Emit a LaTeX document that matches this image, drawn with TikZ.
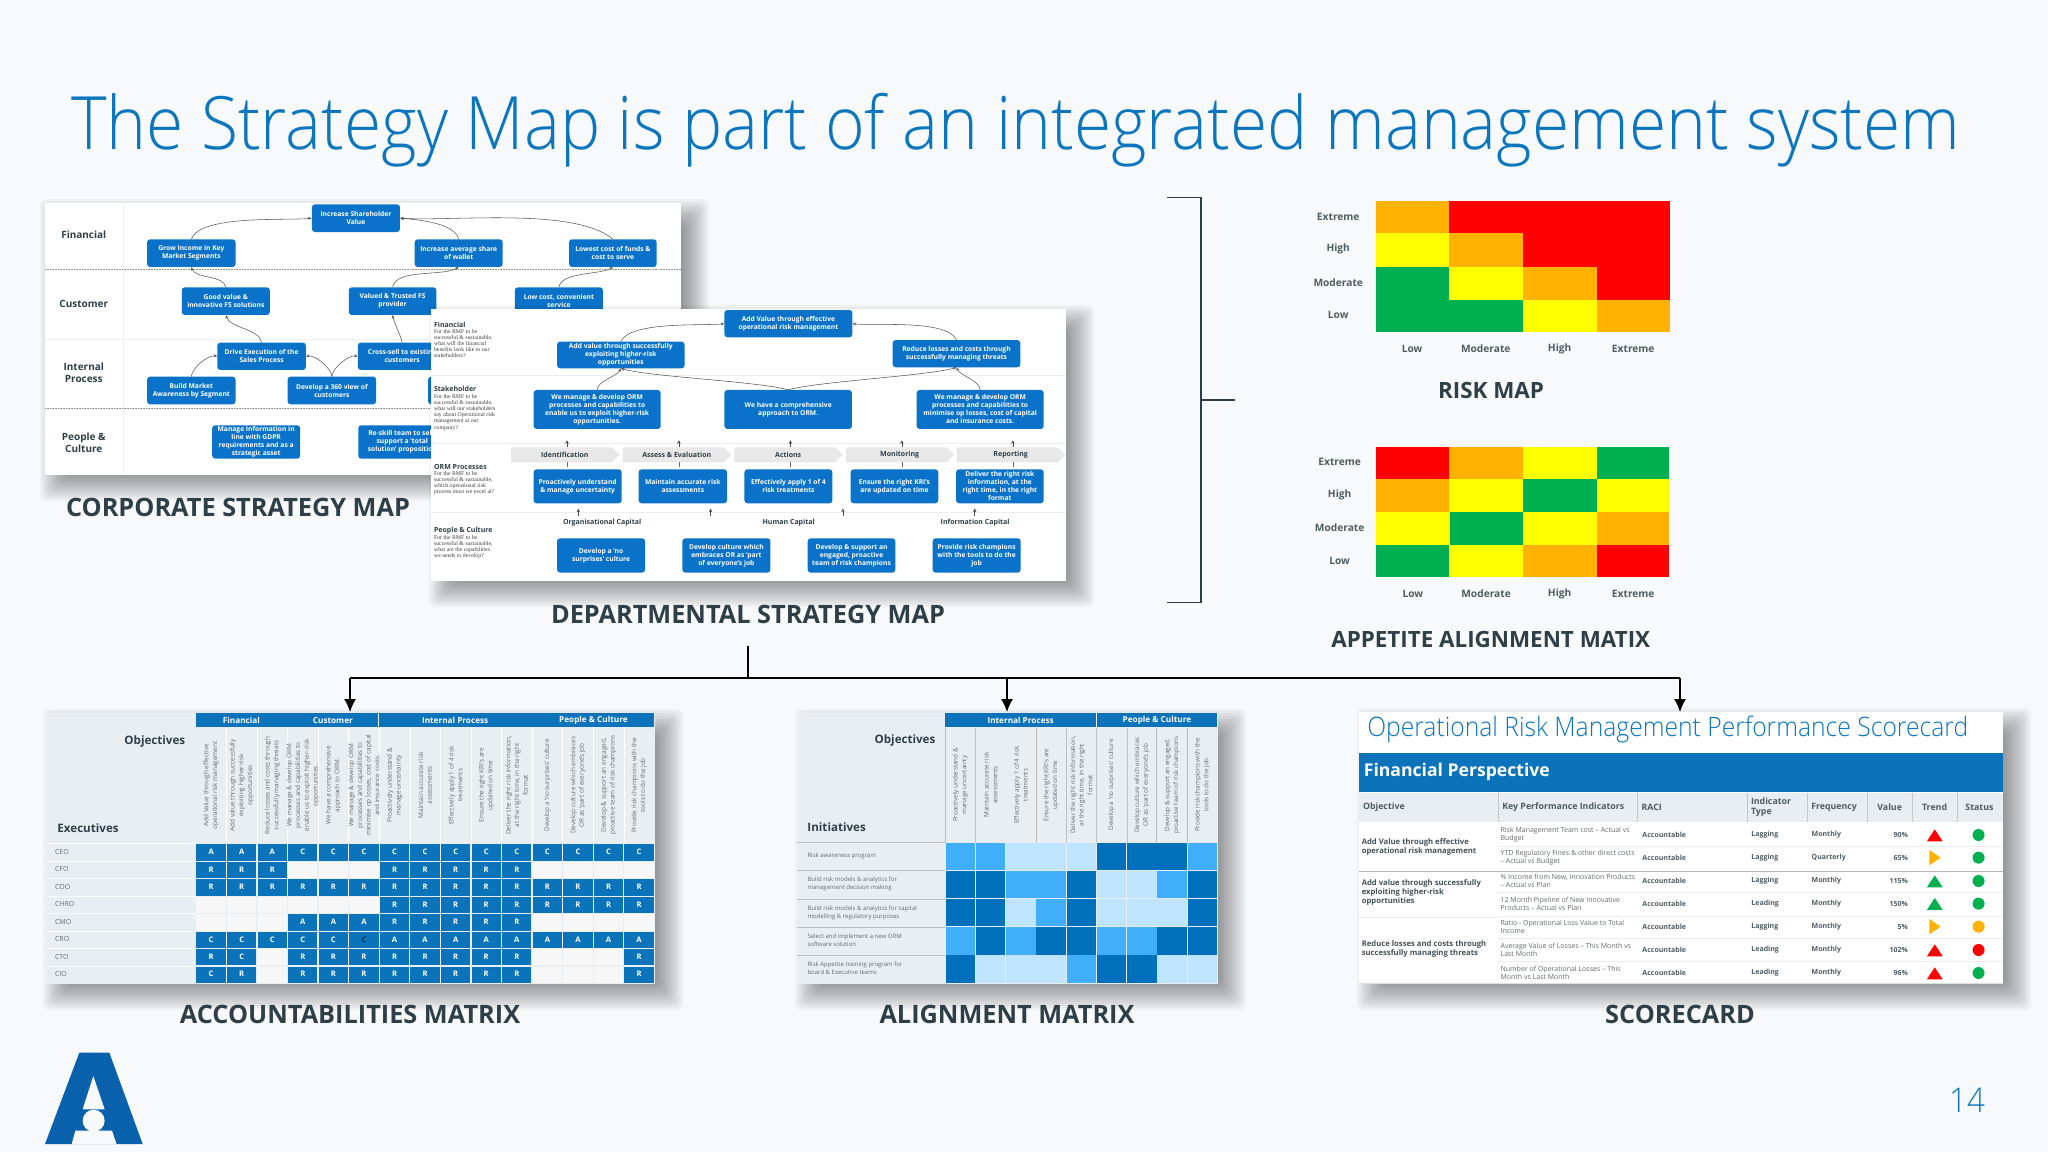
\documentclass[tikz,border=0pt]{standalone}
\usepackage{fontspec}
\usetikzlibrary{arrows.meta}
\setmainfont{Open Sans}
\newfontfamily\lightf{Open Sans Light}[FakeStretch=0.92]
\newcommand{\semif}{\bfseries}
\newfontfamily\serf{Liberation Serif}
\definecolor{bgc}{HTML}{F8F9FB}
\definecolor{titleblue}{HTML}{0B76BE}
\definecolor{boxblue}{HTML}{0A72C8}
\definecolor{tblblue}{HTML}{0A73BA}
\definecolor{capc}{HTML}{2F3F47}
\definecolor{grayt}{HTML}{666C70}
\definecolor{hdrc}{HTML}{E9EEF2}
\definecolor{rr}{HTML}{FF0000}
\definecolor{oo}{HTML}{FFB300}
\definecolor{yy}{HTML}{FFFF00}
\definecolor{gg}{HTML}{00B050}
\definecolor{DD}{HTML}{0070BC}
\definecolor{MM}{HTML}{40AEFB}
\definecolor{LL}{HTML}{BFE4FF}
\newcommand{\fs}[2]{\fontsize{#1}{#2}\selectfont}
\newcount\nn
\newcommand{\lab}[4]{\global\advance\nn by 1\node[#1] (lab\the\nn) at (#2,#3) {#4};}
\def\zs{1}
\newcommand{\bx}[6]{\pgfmathsetmacro\ww{(#4-#2)*\zs}\pgfmathsetmacro\hh{(#5-#3)*0.3333}%
 \node[flowbox,minimum width=\ww pt,minimum height=\hh pt] (#1) at ({(#2+#4)/2},{(#3+#5)/2}) {#6};}
\newcommand{\softsh}[4]{\foreach \ii in {15,13,...,-15}{%
 \fill[black,opacity=0.033,rounded corners=6pt] ({#1+13-\ii},{#2+11-\ii}) rectangle ({#3+13+\ii},{#4+11+\ii});}}
\tikzset{
 flowbox/.style={fill=boxblue,rounded corners=3pt,text=white,align=center,inner sep=0pt,font=\bfseries\fs{6.7}{8}},
 curve/.style={draw=black!65,line width=0.55pt,-{Stealth[length=3.5pt,width=3pt]}},
 upar/.style={draw=black!70,line width=0.55pt,-{Stealth[length=3.5pt,width=3.5pt]}},
 caption/.style={font=\semif\fs{25.3}{28},text=capc},
 captionb/.style={font=\semif\fs{22.4}{26},text=capc},
 riskl/.style={font=\semif\fs{10.2}{12},text=capc!85},
 chev/.style={fill=black!9,draw=none},
 tree/.style={draw=black,line width=1.4pt},
 treear/.style={draw=black,line width=1.4pt,-{Latex[length=13pt,width=12pt]}},
 brk/.style={draw=capc,line width=1.5pt},
 rowlbl/.style={font=\semif\fs{10}{12},text=capc,align=center},
 dsmall/.style={font=\serf\fs{5.8}{6.1},align=left,anchor=north west,inner sep=0pt,text=black!75},
 dhead/.style={font=\semif\fs{7}{9},anchor=west,inner sep=0pt,text=capc},
 vert/.style={rotate=90,align=center,text=grayt,inner sep=0pt},
 tblhead/.style={font=\bfseries\fs{8.2}{10},text=white,inner sep=0pt},
 matl/.style={font=\bfseries\fs{11.6}{13},text=capc,inner sep=0pt},
}
\begin{document}
\begin{tikzpicture}[x=1pt,y=-1pt]
\useasboundingbox (0,0) rectangle (2048,1152);
\fill[bgc] (0,0) rectangle (2048,1152);
% title
\lab{anchor=base west,inner sep=0pt,font=\lightf\fs{73.6}{80},text=titleblue}{71}{149}{The Strategy Map is part of an integrated management system}
% ---------- corporate
\softsh{42}{203}{681}{475}
\begin{scope}[shift={(30,190)},x=0.4337pt,y=-0.3333pt]
\def\zs{0.4337}
\fill[white] (35,38) rectangle (1502,855);
\draw[black!45,line width=.6pt,densely dotted] (35,238)--(1502,238) (35,655)--(1502,655);
\draw[black!6,line width=1pt] (35,450)--(1502,450) (215,40)--(215,850);
\lab{rowlbl}{124}{134}{Financial}
\lab{rowlbl}{124}{343}{Customer}
\lab{rowlbl}{124}{549}{Internal\\Process}
\lab{rowlbl}{124}{758}{People \&\\Culture}
\bx{ctop}{650}{43}{853}{126}{Increase Shareholder\\Value}
\bx{cgrow}{270}{148}{474}{231}{Grow Income in Key\\Market Segments}
\bx{cwal}{887}{148}{1090}{231}{Increase average share\\of wallet}
\bx{clow}{1243}{148}{1445}{231}{Lowest cost of funds \&\\cost to serve}
\bx{cgood}{350}{292}{553}{375}{Good value \&\\innovative FS solutions}
\bx{cval}{735}{292}{937}{375}{Valued \& Trusted FS\\provider}
\bx{ccon}{1118}{292}{1321}{375}{Low cost, convenient\\service}
\bx{cdrive}{432}{458}{636}{540}{Drive Execution of the\\Sales Process}
\bx{ccross}{756}{458}{960}{540}{Cross-sell to existing\\customers}
\bx{cbuild}{270}{560}{474}{643}{Build Market\\Awareness by Segment}
\bx{cdev}{594}{560}{798}{643}{Develop a 360 view of\\customers}
\bx{chid}{918}{560}{1120}{643}{}
\bx{cman}{420}{706}{623}{806}{Manage Information in\\line with GDPR\\requirements and as a\\strategic asset}
\bx{cres}{757}{706}{960}{806}{Re-skill team to sell/\\support a `total\\solution' proposition}
\draw[curve] (cgrow.north) to[out=70,in=186,looseness=.55] (ctop.west);
\draw[curve] (cwal.north) to[out=105,in=-5,looseness=.7] (ctop.east);
\draw[curve] (clow.north) to[out=140,in=-4,looseness=.6] (ctop.east);
\draw[curve] (cgood.north) to[out=100,in=-70,looseness=.8] (cgrow.south);
\draw[curve] (cval.north) to[out=80,in=-150,looseness=.7] (cwal.south);
\draw[curve] (ccon.north) to[out=80,in=-150,looseness=.7] (clow.south);
\draw[curve] (cdrive.north) to[out=100,in=-70,looseness=.8] (cgood.south);
\draw[curve] (ccross.north) to[out=100,in=-80,looseness=.6] (cval.south);
\draw[curve] (cbuild.north) to[out=85,in=170,looseness=.7] (cdrive.west);
\draw[curve] (cdev.north) to[out=95,in=10,looseness=.7] (cdrive.east);
\draw[curve] (cdev.north) to[out=85,in=170,looseness=.7] (ccross.west);
\end{scope}
\lab{caption}{238}{507}{CORPORATE STRATEGY MAP}
% ---------- departmental
\softsh{431}{309}{1066}{581}
\begin{scope}[shift={(420,300)},x=0.4337pt,y=-0.3333pt]
\def\zs{0.4337}
\fill[white] (25,27) rectangle (1490,843);
\draw[black!7,line width=1pt] (25,225)--(1490,225) (25,430)--(1490,430) (25,638)--(1490,638);
\lab{dhead}{32}{74}{Financial}
\lab{dsmall}{32}{88}{For the RMF to be\\successful \& sustainable,\\what will the financial\\benefits look like to our\\stakeholders?}
\lab{dhead}{32}{268}{Stakeholder}
\lab{dsmall}{32}{283}{For the RMF to be\\successful \& sustainable,\\what will our stakeholders\\say about Operational risk\\management at our\\company?}
\lab{dhead}{32}{500}{ORM Processes}
\lab{dsmall}{32}{513}{For the RMF to be\\successful \& sustainable,\\which operational risk\\process must we excel at?}
\lab{dhead}{32}{691}{People \& Culture}
\lab{dsmall}{32}{705}{For the RMF to be\\successful \& sustainable,\\what are the capabilities\\we needs to develop?}
\bx{dtop}{702}{30}{997}{112}{Add Value through effective\\operational risk management}
\bx{dl}{316}{125}{610}{205}{Add value through successfully\\exploiting higher-risk\\opportunities}
\bx{dr}{1090}{120}{1384}{202}{Reduce losses and costs through\\successfully managing threats}
\bx{ds1}{262}{270}{555}{387}{We manage \& develop ORM\\processes and capabilities to\\enable us to exploit higher-risk\\opportunities.}
\bx{ds2}{702}{270}{996}{387}{We have a comprehensive\\approach to ORM.}
\bx{ds3}{1145}{270}{1438}{387}{We manage \& develop ORM\\processes and capabilities to\\minimise op losses, cost of capital\\and insurance costs.}
\draw[curve] (dl.north) to[out=65,in=186,looseness=.55] (dtop.west);
\draw[curve] (dr.north) to[out=115,in=-6,looseness=.55] (dtop.east);
\draw[curve] (ds1.north) to[out=90,in=-115,looseness=.7] (dl.south);
\draw[curve] (ds2.north) to[out=165,in=-15,looseness=.5] (dl.south);
\draw[curve] (ds2.north) to[out=15,in=195,looseness=.5] (dr.south);
\draw[curve] (ds3.north) to[out=90,in=-65,looseness=.7] (dr.south);
\foreach \n/\a/\t [count=\k] in {1/210/Identification,2/468/Assess \& Evaluation,3/725/Actions,4/982/Monitoring,5/1238/Reporting}{
  \fill[chev] (\a,442) -- ({\a+232},442) -- ({\a+250},464) -- ({\a+232},487) -- (\a,487) -- cycle;
  \coordinate (dtopc\n) at ({\a+129},442);
  \coordinate (dtopa\n) at ({\a+129},421);
  \coordinate (dbotc\n) at ({\a+129},487);
  \coordinate (dbota\n) at ({\a+129},502);
  \draw[upar] (dtopc\n) -- (dtopa\n);
  \draw[black!60,line width=.55pt] (dbota\n) -- (dbotc\n);
  \node[font=\bfseries\fs{7}{9},text=capc,inner sep=0pt] (dchevt\n) at ({\a+124},464) {\t};
}
\bx{dp1}{262}{508}{465}{610}{Proactively understand\\\& manage uncertainty}
\bx{dp2}{504}{508}{708}{610}{Maintain accurate risk\\assessments}
\bx{dp3}{748}{508}{951}{610}{Effectively apply 1 of 4\\risk treatments}
\bx{dp4}{993}{508}{1195}{610}{Ensure the right KRI's\\are updated on time}
\bx{dp5}{1236}{508}{1438}{610}{Deliver the right risk\\information, at the\\right time, in the right\\format}
\foreach \x [count=\k] in {365,670,975,1279}{
  \coordinate (da\k) at (\x,648); \coordinate (db\k) at (\x,626);
  \draw[upar] (da\k) -- (db\k);
}
\lab{font=\bfseries\fs{7}{9},text=capc,inner sep=0pt}{420}{668}{Organisational Capital}
\lab{font=\bfseries\fs{7}{9},text=capc,inner sep=0pt}{850}{668}{Human Capital}
\lab{font=\bfseries\fs{7}{9},text=capc,inner sep=0pt}{1280}{668}{Information Capital}
\bx{dc1}{316}{715}{519}{818}{Develop a `no\\surprises' culture}
\bx{dc2}{605}{715}{808}{818}{Develop culture which\\embraces OR as `part\\of everyone's job}
\bx{dc3}{894}{715}{1096}{818}{Develop \& support an\\engaged, proactive\\team of risk champions}
\bx{dc4}{1182}{715}{1385}{818}{Provide risk champions\\with the tools to do the\\job}
\end{scope}
\lab{caption}{748}{614}{DEPARTMENTAL STRATEGY MAP}
% ---------- risk maps
\begin{scope}[shift={(1150,180)},x=0.35714pt,y=-0.3333pt]
\coordinate (bt) at (48,53); \coordinate (btc) at (143,53); \coordinate (bbc) at (143,1268); \coordinate (bb) at (48,1268);
\coordinate (bm) at (143,660); \coordinate (bo) at (238,660);
\draw[brk] (bt) -- (btc) -- (bbc) -- (bb);
\draw[brk,line width=1.2pt] (bm) -- (bo);
\foreach \cc/\xs/\xt/\ys/\yt in {
 oo/632/838/63/160, rr/838/1457/63/160,
 yy/632/838/160/260, oo/838/1044/160/260, rr/1044/1457/160/260,
 gg/632/838/260/359, yy/838/1044/260/359, oo/1044/1251/260/359, rr/1251/1457/260/359,
 gg/632/1044/359/457, yy/1044/1251/359/457, oo/1251/1457/359/457,
 rr/634/838/800/897, oo/838/1045/800/897, yy/1045/1251/800/897, gg/1251/1454/800/897,
 oo/634/838/897/995, yy/838/1045/897/995, gg/1045/1251/897/995, yy/1251/1454/897/995,
 yy/634/840/995/1094, gg/840/1045/995/1094, yy/1045/1251/995/1094, oo/1251/1454/995/1094,
 gg/634/838/1094/1191, yy/838/1045/1094/1191, oo/1045/1251/1094/1191, rr/1251/1454/1094/1191}{
 \fill[\cc] (\xs,\ys) rectangle (\xt,\yt);
}
\foreach \t/\y in {Extreme/110,High/208,Moderate/307,Low/406}{\lab{riskl}{527}{\y}{\t}}
\foreach \t/\x in {Low/734,Moderate/940,High/1147,Extreme/1353}{\lab{riskl}{\x}{506}{\t}}
\foreach \t/\y in {Extreme/847,High/945,Moderate/1044,Low/1142}{\lab{riskl}{531}{\y}{\t}}
\foreach \t/\x in {Low/736,Moderate/941,High/1147,Extreme/1353}{\lab{riskl}{\x}{1241}{\t}}
\lab{captionb}{955}{631}{RISK MAP}
\lab{captionb}{954}{1378}{APPETITE ALIGNMENT MATIX}
\end{scope}
% ---------- tree
\coordinate (tstem) at (748,646);
\coordinate (tj) at (748,678);
\coordinate (tl) at (350,678); \coordinate (tm) at (1007,678); \coordinate (tr) at (1680,678);
\coordinate (tla) at (350,712); \coordinate (tma) at (1007,712); \coordinate (tra) at (1680,712);
\draw[tree] (tstem) -- (tj);
\draw[tree] (tl) -- (tr);
\draw[treear] (tl) -- (tla);
\draw[treear] (tm) -- (tma);
\draw[treear] (tr) -- (tra);
% ---------- accountabilities
\softsh{45}{713}{655}{984}
\begin{scope}[shift={(30,700)},x=0.4146pt,y=-0.3333pt]
\fill[hdrc] (35,38) rectangle (1508,853);
\draw[black!7,line width=.8pt] (40,45) -- (400,430);
\foreach \a/\b/\t in {400/620/Financial,621/840/Customer,841/1210/Internal Process,1212/1506/People \& Culture}{
 \fill[tblblue] (\a,40) rectangle (\b,82);
 \lab{tblhead}{{(\a+\b)/2}}{61}{\t}
}
\foreach \c in {1,...,14}{\draw[white,line width=.5pt] ({400+\c*73.73},84) -- ({400+\c*73.73},430);}
\foreach \t [count=\c] in {{Add Value through effective\\operational risk management},{Add value through successfully\\exploiting higher-risk\\opportunities},{Reduce losses and costs through\\successfully managing threats},{We manage \& develop ORM\\processes and capabilities to\\enable us to exploit higher-risk\\opportunities.},{We have a comprehensive\\approach to ORM.},{We manage \& develop ORM\\processes and capabilities to\\minimise op losses, cost of capital\\and insurance costs.},{Proactively understand \&\\manage uncertainty},{Maintain accurate risk\\assessments},{Effectively apply 1 of 4 risk\\treatments},{Ensure the right KRI's are\\updated on time},{Deliver the right risk information,\\at the right time, in the right\\format},{Develop a `no surprises' culture},{Develop culture which embraces\\OR as `part of everyone's job},{Develop \& support an engaged,\\proactive team of risk champions},{Provide risk champions with the\\tools to do the job}}{
 \node[vert,font=\fs{6.4}{8.7}] (acch\c) at ({400+(\c-.5)*73.73},256) {\t};
}
\lab{matl}{301}{124}{Objectives}
\lab{matl}{140}{383}{Executives}
\def\dashv{-}\def\dk{c}
\foreach \nm/\rw [count=\r] in {CEO/{A,A,A,C,C,C,C,C,C,C,C,C,C,C,C},CFO/{R,R,R,-,-,-,R,R,R,R,R,-,-,-,-},COO/{R,R,R,R,R,R,R,R,R,R,R,R,R,R,R},CHRO/{-,-,-,-,-,-,R,R,R,R,R,R,R,R,R},CMO/{-,-,-,A,A,A,R,R,R,R,R,-,-,-,-},CRO/{C,C,C,C,C,c,A,A,A,A,A,A,A,A,A},CTO/{R,C,-,R,R,R,R,R,R,R,R,-,-,-,R},CIO/{C,R,-,R,R,R,R,R,R,R,R,-,-,-,R}}{
 \pgfmathsetmacro\yt{433+(\r-1)*52.4}
 \pgfmathsetmacro\yb{\yt+49}
 \pgfmathsetmacro\ym{\yt+23}
 \draw[white,line width=.7pt] (42,{\yt-1.5}) -- (400,{\yt-1.5});
 \node[font=\fs{7}{9},text=grayt,anchor=west,inner sep=0pt] (accr\r) at (60,\ym) {\nm};
 \foreach \v [count=\c] in \rw {
  \pgfmathsetmacro\xl{400+(\c-1)*73.73+1.5}
  \pgfmathsetmacro\xr{400+\c*73.73-1.5}
  \pgfmathsetmacro\xm{(\xl+\xr)/2}
  \ifx\v\dashv
   \fill[white!97!black] (\xl,\yt) rectangle (\xr,\yb);
  \else
   \fill[tblblue] (\xl,\yt) rectangle (\xr,\yb);
   \ifx\v\dk
    \node[font=\bfseries\fs{7.6}{10},text=black!55!tblblue,inner sep=0pt] (acc\r-\c) at (\xm,\ym) {C};
   \else
    \node[font=\bfseries\fs{7.6}{10},text=white,inner sep=0pt] (acc\r-\c) at (\xm,\ym) {\v};
   \fi
  \fi
 }
}
\end{scope}
\lab{caption}{350}{1014}{ACCOUNTABILITIES MATRIX}
% ---------- alignment
\softsh{797}{713}{1218}{984}
\begin{scope}[shift={(790,700)},x=0.3333pt,y=-0.3333pt]
\fill[hdrc] (22,40) rectangle (1285,852);
\draw[black!8,line width=.8pt] (22,40) -- (466,428);
\foreach \a/\b/\t in {466/918/Internal Process,920/1282/People \& Culture}{
 \fill[tblblue] (\a,40) rectangle (\b,82);
 \lab{tblhead}{{(\a+\b)/2}}{61}{\t}
}
\foreach \x in {466,556,738,829,920,1011,1100,1192}{\draw[black!25,line width=.5pt] (\x,84) -- (\x,428);}
\foreach \t [count=\c] in {{Proactively understand \&\\manage uncertainty},{Maintain accurate risk\\assessments},{Effectively apply 1 of 4 risk\\treatments},{Ensure the right KRI's are\\updated on time},{Deliver the right risk information,\\at the right time, in the right\\format},{Develop a `no surprises' culture},{Develop culture which embraces\\OR as `part of everyone's job},{Develop \& support an engaged,\\proactive team of risk champions},{Provide risk champions with the\\tools to do the job}}{
 \node[vert,font=\fs{6.3}{8.7}] (alih\c) at ({466+(\c-.5)*90.7},255) {\t};
}
\lab{matl}{345}{122}{Objectives}
\lab{matl}{140}{380}{Initiatives}
\foreach \t/\rw [count=\r] in {{Risk awareness program}/{MM,MM,LL,LL,LL,DD,DD,DD,MM},{Build risk models \& analytics for\\management decision making}/{DD,DD,MM,MM,DD,LL,LL,MM,DD},{Build risk models \& analytics for capital\\modelling \& regulatory purposes}/{DD,DD,LL,MM,DD,LL,LL,LL,DD},{Select and implement a new ORM\\software solution}/{MM,DD,MM,DD,DD,MM,MM,DD,DD},{Risk Appetite training program for\\board \& Executive teams}/{DD,LL,LL,LL,MM,DD,DD,LL,LL}}{
 \pgfmathsetmacro\yt{428+(\r-1)*84.2}
 \draw[black!25,line width=.5pt] (22,\yt) -- (466,\yt);
 \node[font=\fs{6}{8},text=grayt,anchor=west,align=left,inner sep=0pt] (alir\r) at (52,{\yt+41}) {\t};
 \foreach \v [count=\c] in \rw {
  \fill[\v] ({466+(\c-1)*90.7+1},{\yt+1}) rectangle ({466+\c*90.7-1},{\yt+83});
 }
}
\end{scope}
\lab{caption}{1007}{1014}{ALIGNMENT MATRIX}
% ---------- scorecard
\softsh{1359}{712}{2003}{984}
\begin{scope}[shift={(1350,700)},x=0.4273pt,y=-0.3333pt]
\fill[white] (22,37) rectangle (1528,852);
\lab{anchor=base west,inner sep=0pt,font=\lightf\fs{26.8}{30},text=titleblue}{40}{108}{Operational Risk Management Performance Scorecard}
\fill[tblblue] (22,160) rectangle (1528,276);
\lab{anchor=west,inner sep=0pt,font=\bfseries\fs{17.6}{22},text=white}{32}{216}{Financial Perspective}
\fill[hdrc] (22,280) rectangle (1528,367);
\foreach \x in {347,673,929,1071,1211,1316,1422}{\draw[black!22,line width=.7pt] (\x,280) -- (\x,367);}
\foreach \t/\x in {Objective/30,Key Performance Indicators/356,RACI/682,{Indicator\\Type}/938,Frequency/1079}{
 \lab{anchor=west,align=left,inner sep=0pt,font=\semif\fs{8.8}{10.7},text=capc!85}{\x}{322}{\t}
}
\foreach \t/\x in {Value/1263,Trend/1368,Status/1473}{
 \lab{inner sep=0pt,font=\semif\fs{8.8}{10.7},text=capc!85}{\x}{322}{\t}
}
\foreach \y in {440,578,650,715,785}{\draw[black!7,line width=.7pt] (347,\y) -- (1528,\y);}
\draw[black!28,line width=.8pt] (22,514) -- (1528,514);
\draw[black!12,line width=.8pt] (22,850) -- (1528,850);
\draw[black!7,line width=.7pt] (22,652) -- (347,652);
\foreach \t/\y in {{Add Value through effective\\operational risk management}/441,{Add value through successfully\\exploiting higher-risk\\opportunities}/578,{Reduce losses and costs through\\successfully managing threats}/748}{
 \lab{anchor=west,align=left,inner sep=0pt,font=\bfseries\fs{7.7}{9.3},text=capc!90}{27}{\y}{\t}
}
\foreach \k/\ty/\fq/\va/\y in {{Risk Management Team cost – Actual vs\\Budget}/Lagging/Monthly/90\%/405,{YTD Regulatory Fines \& other direct costs\\– Actual vs Budget}/Lagging/Quarterly/65\%/473,{\% Income from New, Innovation Products\\– Actual vs Plan}/Lagging/Monthly/115\%/543,{12 Month Pipeline of New Innovative\\Products – Actual vs Plan}/Leading/Monthly/150\%/611,{Ratio - Operational Loss Value to Total\\Income}/Lagging/Monthly/5\%/680,{Average Value of Losses – This Month vs\\Last Month}/Leading/Monthly/102\%/750,{Number of Operational Losses – This\\Month vs Last Month}/Leading/Monthly/96\%/819}{
 \lab{anchor=west,align=left,inner sep=0pt,font=\fs{7}{8},text=grayt}{352}{\y}{\k}
 \lab{anchor=west,inner sep=0pt,font=\bfseries\fs{7}{9},text=capc!85}{684}{\y}{Accountable}
 \lab{anchor=west,inner sep=0pt,font=\bfseries\fs{7}{9},text=capc!85}{939}{\y}{\ty}
 \lab{anchor=west,inner sep=0pt,font=\bfseries\fs{7}{9},text=capc!85}{1080}{\y}{\fq}
 \lab{anchor=east,inner sep=0pt,font=\bfseries\fs{7}{9},text=capc!85}{1306}{\y}{\va}
}
\foreach \cc/\y in {rr/405,gg/543,gg/611,rr/750,rr/819}{
 \fill[\cc] (1350,{\y+19}) -- (1387,{\y+19}) -- (1368.5,{\y-17}) -- cycle;
}
\foreach \y in {473,680}{
 \fill[oo] (1356,{\y-23}) -- (1382,\y) -- (1356,{\y+23}) -- cycle;
}
\foreach \cc/\y in {gg/405,gg/473,gg/543,gg/611,oo/680,rr/750,gg/819}{
 \fill[\cc] (1471,\y) circle[radius=6pt];
}
\end{scope}
\lab{caption}{1680}{1014}{SCORECARD}
% ---------- logo
\begin{scope}[shift={(20,1030)},x=0.3333pt,y=-0.3333pt]
\fill[boxblue!85!black] (178,68) -- (268,68) -- (368,342) -- (75,342) -- cycle;
\fill[bgc] (220,138) -- (188,238) -- (254,238) -- cycle;
\fill[bgc] (221,272) circle[radius=11pt];
\fill[bgc] (166,302) -- (276,302) -- (290,343) -- (155,343) -- cycle;
\end{scope}
\lab{inner sep=0pt,font=\lightf\fs{34}{36},text=titleblue}{1967}{1100}{14}
\end{tikzpicture}
\end{document}
